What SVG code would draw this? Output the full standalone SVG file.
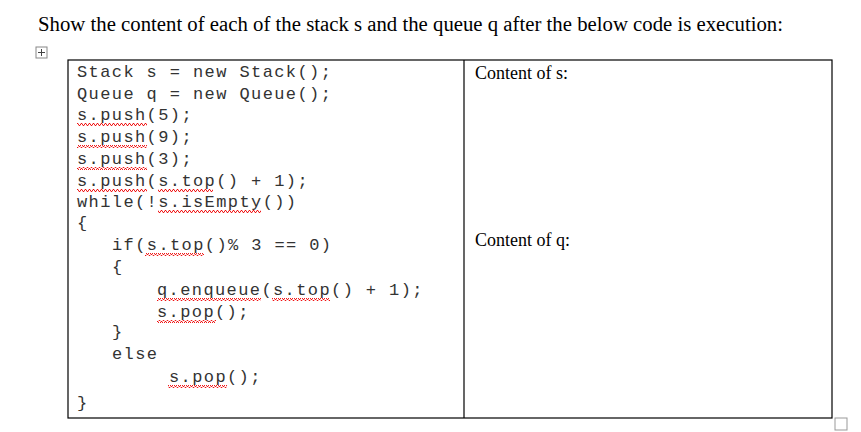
<svg xmlns="http://www.w3.org/2000/svg" width="861" height="432" viewBox="0 0 861 432">
<style>
.c{font-family:"Liberation Mono","Courier New",monospace;font-size:17px;letter-spacing:1.4px;fill:#333}
.t{font-family:"Liberation Serif","Times New Roman",serif;fill:#000}
.w{fill:url(#wave)}
</style>
<defs>
<pattern id="wave" width="4" height="3" patternUnits="userSpaceOnUse">
<path d="M0 2.5 L1 0.5 L2 0.5 L3 2.5 L4 2.5" fill="none" stroke="#e00" stroke-width="0.9"/>
</pattern>
</defs>
<rect width="861" height="432" fill="#fff"/>
<text class="t" x="38" y="31" font-size="20" textLength="745" lengthAdjust="spacingAndGlyphs">Show the content of each of the stack s and the queue q after the below code is execution:</text>
<g id="moveicon">
<rect x="36" y="47" width="11" height="11" fill="#fff" stroke="#888"/>
<path d="M41.5 49v7M38 52.5h7" stroke="#444"/>
</g>
<g id="table" fill="none" stroke="#000" stroke-width="1.2">
<rect x="68" y="60" width="764" height="358"/>
<line x1="464" y1="60" x2="464" y2="418"/>
</g>
<rect x="835" y="418" width="12" height="12" fill="#fff" stroke="#999"/>
<g id="code">
<text class="c" x="77" y="77">Stack s = new Stack();</text>
<text class="c" x="77" y="99">Queue q = new Queue();</text>
<text class="c" x="77" y="120">s.push(5);</text>
<text class="c" x="77" y="142">s.push(9);</text>
<text class="c" x="77" y="164">s.push(3);</text>
<text class="c" x="77" y="186">s.push(s.top() + 1);</text>
<text class="c" x="77" y="207">while(!s.isEmpty())</text>
<text class="c" x="77" y="228">{</text>
<text class="c" x="112" y="250">if(s.top()% 3 == 0)</text>
<text class="c" x="112" y="272">{</text>
<text class="c" x="157" y="295">q.enqueue(s.top() + 1);</text>
<text class="c" x="157" y="317">s.pop();</text>
<text class="c" x="112" y="337">}</text>
<text class="c" x="112" y="359">else</text>
<text class="c" x="169" y="382">s.pop();</text>
<text class="c" x="77" y="408">}</text>
</g>
<g id="squiggles">
<rect class="w" x="77" y="123" width="70" height="3"/>
<rect class="w" x="77" y="145" width="70" height="3"/>
<rect class="w" x="77" y="167" width="70" height="3"/>
<rect class="w" x="77" y="189" width="70" height="3"/>
<rect class="w" x="158" y="189" width="55" height="3"/>
<rect class="w" x="158" y="210" width="103" height="3"/>
<rect class="w" x="145" y="253" width="59" height="3"/>
<rect class="w" x="157" y="298" width="104" height="3"/>
<rect class="w" x="272" y="298" width="58" height="3"/>
<rect class="w" x="157" y="320" width="59" height="3"/>
<rect class="w" x="168" y="385" width="59" height="3"/>
</g>
<g id="answers">
<text class="t" x="475" y="79" font-size="18">Content of s:</text>
<text class="t" x="475" y="246" font-size="18">Content of q:</text>
</g>
</svg>
